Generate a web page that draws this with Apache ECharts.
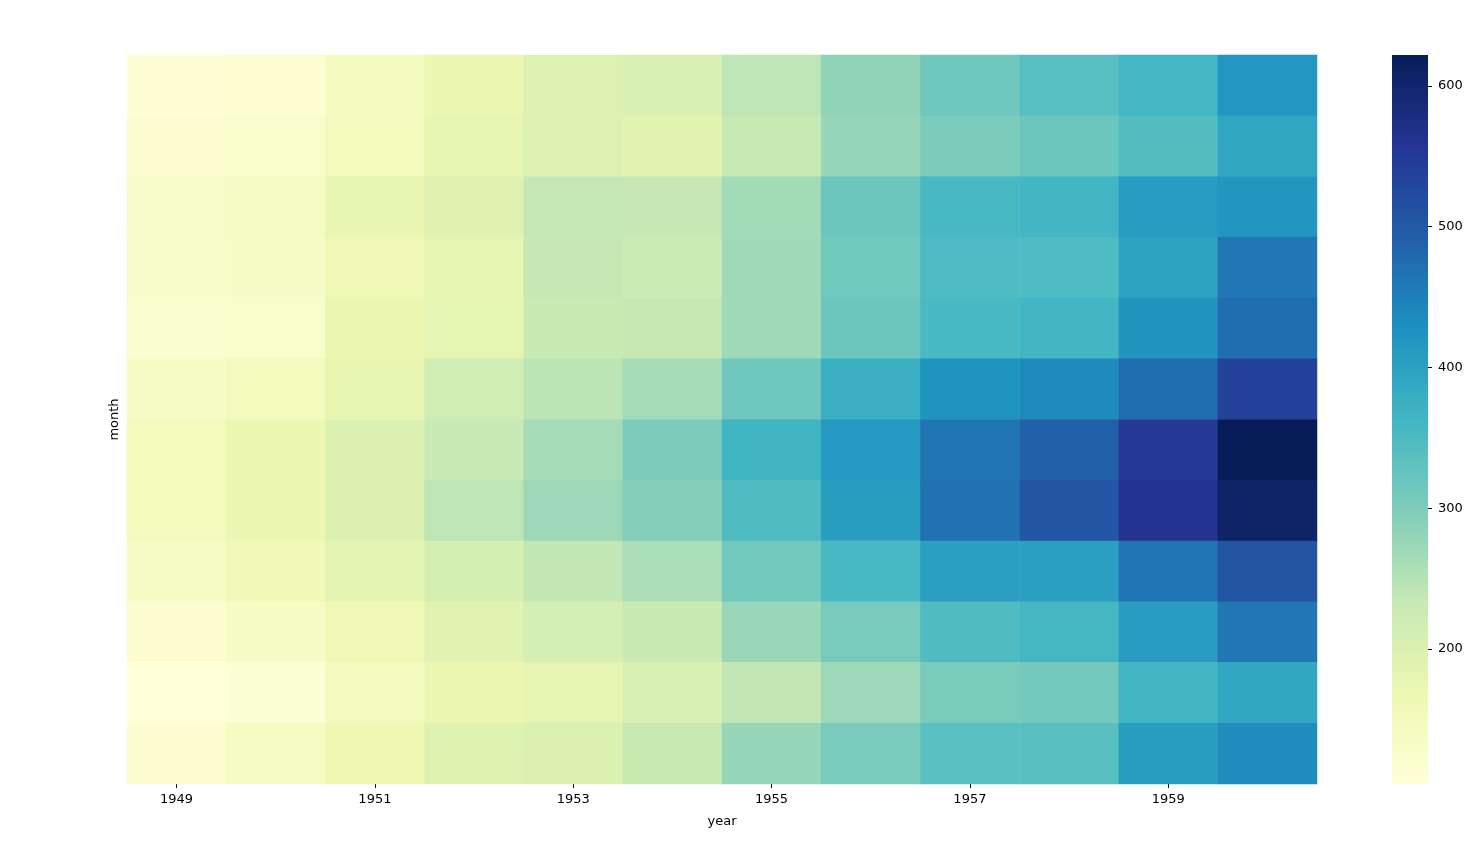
<!DOCTYPE html>
<html>
<head>
<meta charset="utf-8">
<script src="https://cdn.jsdelivr.net/npm/echarts@6/dist/echarts.min.js"></script>
<style>html,body{margin:0;padding:0;background:#fff;}#c{width:1484px;height:856px;}</style>
</head>
<body>
<div id="c"></div>
<script>
const years = ['1949','1950','1951','1952','1953','1954','1955','1956','1957','1958','1959','1960'];
const months = ['Jan','Feb','Mar','Apr','May','Jun','Jul','Aug','Sep','Oct','Nov','Dec'];
const jan = [112,115,145,171,196,204,242,284,315,340,360,417];
const feb = [118,126,150,180,196,188,233,277,301,318,342,391];
const mar = [132,141,178,193,236,235,267,317,356,362,406,419];
const apr = [129,135,163,181,235,227,269,313,348,348,396,461];
const may = [121,125,172,183,229,234,270,318,355,363,420,472];
const jun = [135,149,178,218,243,264,315,374,422,435,472,535];
const jul = [148,170,199,230,264,302,364,413,465,491,548,622];
const aug = [148,170,199,242,272,293,347,405,467,505,559,606];
const sep = [136,158,184,209,237,259,312,355,404,404,463,508];
const oct = [119,133,162,191,211,229,274,306,347,359,407,461];
const nov = [104,114,146,172,180,203,237,271,305,310,362,390];
const dec = [118,140,166,194,201,229,278,306,336,337,405,432];
const rows = [jan,feb,mar,apr,may,jun,jul,aug,sep,oct,nov,dec];
const cbTicks = [200,300,400,500,600];
const vmin = 104, vmax = 622;
const palette = ['#ffffd9','#edf8b1','#c7e9b4','#7fcdbb','#41b6c4','#1d91c0','#225ea8','#253494','#081d58'];

const data = [];
rows.forEach((r, mi) => r.forEach((v, yi) => data.push([yi, mi, v])));

const chart = echarts.init(document.getElementById('c'));
const font = 'DejaVu Sans';
chart.setOption({
  animation: false,
  textStyle: {fontFamily: font},
  grid: [
    {left: 127, top: 55, width: 1190, height: 729},
    {left: 1392, top: 55, width: 36, height: 729, show: true, borderWidth: 0,
     backgroundColor: {type: 'linear', x: 0, y: 1, x2: 0, y2: 0,
       colorStops: palette.map((c, i) => ({offset: i / (palette.length - 1), color: c}))}}
  ],
  xAxis: [
    {type: 'category', data: years, gridIndex: 0, name: 'year', nameLocation: 'middle', nameGap: 31,
     nameTextStyle: {color: '#000', fontSize: 13, fontFamily: font},
     axisLine: {show: false},
     axisTick: {show: true, interval: 1, alignWithLabel: true, length: 4, lineStyle: {color: '#000'}},
     axisLabel: {interval: 1, color: '#000', fontSize: 13, margin: 9, fontFamily: font},
     splitLine: {show: false}},
    {type: 'value', gridIndex: 1, show: false, min: 1, max: 2}
  ],
  yAxis: [
    {type: 'category', data: months, gridIndex: 0, inverse: true, name: 'month', nameLocation: 'middle', nameGap: 6,
     nameRotate: 90, nameTextStyle: {color: '#000', fontSize: 13, fontFamily: font},
     axisLine: {show: false}, axisTick: {show: false}, axisLabel: {show: false}, splitLine: {show: false}},
    {type: 'value', gridIndex: 1, position: 'right', min: vmin, max: vmax,
     axisLine: {show: true, onZero: false, lineStyle: {color: 'rgba(0,0,0,0)', width: 0}}, splitLine: {show: false},
     axisTick: {show: true, length: 4, lineStyle: {color: '#000'}, customValues: cbTicks},
     axisLabel: {color: '#000', fontSize: 13, margin: 10, fontFamily: font, customValues: cbTicks}}
  ],
  visualMap: {show: false, min: vmin, max: vmax, seriesIndex: 0, inRange: {color: palette}},
  series: [{
    type: 'heatmap', xAxisIndex: 0, yAxisIndex: 0, data: data,
    itemStyle: {borderWidth: 0}, emphasis: {disabled: true}
  }]
});
</script>
</body>
</html>
